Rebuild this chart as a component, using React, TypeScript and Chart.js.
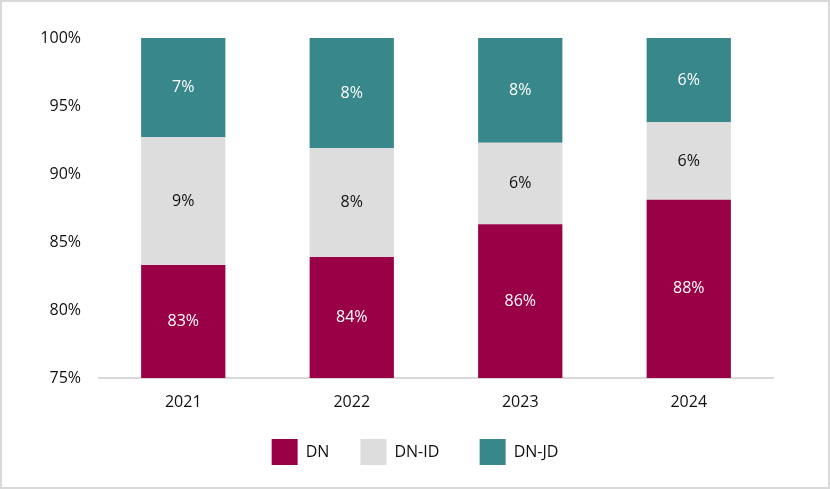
import React, { useEffect, useRef } from "react";
import { Chart, registerables } from "chart.js";

Chart.register(...registerables);

const categories = ["2021", "2022", "2023", "2024"];
const seriesNames = ["DN", "DN-ID", "DN-JD"];
const dnValues = [83.3, 83.9, 86.3, 88.1];
const dnIdValues = [9.4, 8.0, 6.0, 5.7];
const dnJdValues = [7.3, 8.1, 7.7, 6.2];
const yTicks = [75, 80, 85, 90, 95, 100];

const FONT = "'Open Sans', 'Noto Sans', sans-serif";
const legendTrail = ["\u2007", "\u2007\u2007", ""];

const labelPlugin = {
  id: "barLabels",
  afterDatasetsDraw(chart: any) {
    const { ctx, chartArea } = chart;
    ctx.save();
    ctx.font = `16px ${FONT}`;
    ctx.textAlign = "center";
    ctx.textBaseline = "middle";
    chart.data.datasets.forEach((ds: any, di: number) => {
      const meta = chart.getDatasetMeta(di);
      meta.data.forEach((el: any, i: number) => {
        const top = Math.max(Math.min(el.y, el.base), chartArea.top);
        const bottom = Math.min(Math.max(el.y, el.base), chartArea.bottom);
        const cy = (top + bottom) / 2;
        ctx.fillStyle = ds.labelColor;
        ctx.fillText(Math.round(ds.data[i]) + "%", el.x, cy);
      });
    });
    ctx.restore();
  },
};

export default function App() {
  const ref = useRef<HTMLCanvasElement>(null);
  useEffect(() => {
    if (!ref.current) return;
    const chart = new Chart(ref.current, {
      type: "bar",
      data: {
        labels: categories,
        datasets: [
          { label: seriesNames[0], data: dnValues, backgroundColor: "#990045", labelColor: "#ffffff" } as any,
          { label: seriesNames[1], data: dnIdValues, backgroundColor: "#dddddd", labelColor: "#111111" } as any,
          { label: seriesNames[2], data: dnJdValues, backgroundColor: "#38878a", labelColor: "#ffffff" } as any,
        ],
      },
      options: {
        animation: false,
        responsive: false,
        maintainAspectRatio: false,
        layout: { padding: { top: 36, left: 0, right: 0, bottom: 12 } },
        datasets: { bar: { barPercentage: 0.5, categoryPercentage: 1.0 } },
        plugins: {
          tooltip: { enabled: false },
          legend: {
            position: "bottom",
            labels: {
              boxWidth: 26,
              boxHeight: 26,
              padding: 22,
              color: "#111111",
              font: { family: FONT, size: 16 },
              generateLabels: (chart: any) =>
                chart.data.datasets.map((ds: any, i: number) => ({
                  text: ds.label + legendTrail[i],
                  fillStyle: ds.backgroundColor,
                  strokeStyle: ds.backgroundColor,
                  lineWidth: 0,
                  hidden: false,
                  datasetIndex: i,
                  fontColor: "#111111",
                })),
            },
          },
        },
        scales: {
          x: {
            stacked: true,
            grid: { display: false, drawTicks: false },
            border: { display: true, color: "#d9d9d9", width: 2 },
            ticks: { color: "#111111", font: { family: FONT, size: 16 }, padding: 15 },
            afterFit: (s: any) => { s.height = 39; },
          },
          y: {
            stacked: true,
            min: 75,
            max: 100,
            afterBuildTicks: (s: any) => { s.ticks = yTicks.map((v) => ({ value: v })); },
            grid: { display: false, drawTicks: false },
            border: { display: false },
            ticks: {
              color: "#111111",
              font: { family: FONT, size: 16 },
              padding: 18,
              callback: (v: any) => v + "%",
            },
            afterFit: (s: any) => { s.width = 97; },
          },
          y2: {
            position: "right",
            display: true,
            grid: { display: false, drawTicks: false },
            border: { display: false },
            ticks: { display: false },
            afterFit: (s: any) => { s.width = 55; },
          },
        },
      } as any,
      plugins: [labelPlugin],
    });
    return () => chart.destroy();
  }, []);
  return (
    <div
      style={{
        position: "absolute",
        left: 0,
        top: 0,
        width: 830,
        height: 489,
        boxSizing: "border-box",
        border: "2px solid #d9d9d9",
        background: "#fff",
      }}
    >
      <canvas ref={ref} width={826} height={485} style={{ display: "block", width: 826, height: 485 }} />
    </div>
  );
}
